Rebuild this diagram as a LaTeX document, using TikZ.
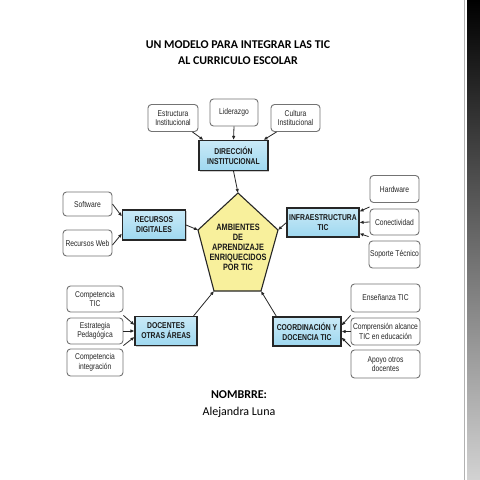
\documentclass[tikz,border=0pt]{standalone}
\usepackage{fontspec}
\setmainfont{Carlito}
\newfontfamily\boxfont[FakeStretch=0.8]{Liberation Sans}
\usetikzlibrary{arrows.meta,shadows}
\definecolor{mainblue}{HTML}{9ED8F0}
\definecolor{penta}{HTML}{F8F09C}
\tikzset{
  small/.style={draw=black!55, line width=0.9pt, rounded corners=3.5pt, fill=white,
    align=center, font=\boxfont\fontsize{8.4}{9.4}\selectfont, inner sep=1pt, text=black!85},
  mainbox/.style={draw=black!85, line width=1.1pt, top color=mainblue!55, bottom color=mainblue,
    align=center, font=\boxfont\bfseries\fontsize{8.5}{10}\selectfont, inner sep=1pt,
    text=black!90,
    drop shadow={shadow xshift=1pt, shadow yshift=-1pt, opacity=0.4}},
  conn/.style={line width=0.8pt, black!85, -{Latex[length=4pt,width=3.5pt]}},
}
\begin{document}
\begin{tikzpicture}[x=1pt,y=-1pt]
\useasboundingbox (0,0) rectangle (480,480);
\fill[white] (0,0) rectangle (480,480);
% right band
\shade[top color=black, bottom color=gray!35] (467,0) rectangle (480,480);
\draw[gray!60, line width=0.8pt] (464,0) -- (464,480);
% title
\node[font=\bfseries\fontsize{11.9}{16.5}\selectfont, align=center] (title) at (238,52.5) {UN MODELO PARA INTEGRAR LAS TIC\\AL CURRICULO ESCOLAR};
% top small boxes
\node[small, minimum width=50pt, minimum height=27pt] (estr) at (173,118) {Estructura\\Institucional};
\node[small, minimum width=48pt, minimum height=27pt] (lid) at (234,112.5) {Liderazgo};
\node[small, minimum width=49pt, minimum height=27pt] (cult) at (295.5,118) {Cultura\\Institucional};
\node[mainbox, minimum width=69pt, minimum height=30pt] (dir) at (233.5,155.5) {DIRECCIÓN\\INSTITUCIONAL};
% pentagon
\coordinate (pt) at (238,193);
\coordinate (pr) at (278,230);
\coordinate (pbr) at (261,291);
\coordinate (pbl) at (214,291);
\coordinate (pl) at (198,230);
\filldraw[fill=penta, draw=black!85, line width=1.1pt] (pt) -- (pr) -- (pbr) -- (pbl) -- (pl) -- cycle;
\node[font=\boxfont\bfseries\fontsize{9.2}{10}\selectfont, align=center, text=black!90] (amb) at (238,247) {AMBIENTES\\DE\\APRENDIZAJE\\ENRIQUECIDOS\\POR TIC};
% left
\node[small, minimum width=49pt, minimum height=24pt] (soft) at (87.5,204) {Software};
\node[small, minimum width=49pt, minimum height=26pt] (web) at (87.5,243) {Recursos Web};
\node[mainbox, minimum width=63pt, minimum height=30pt] (rec) at (154,225) {RECURSOS\\DIGITALES};
% right
\node[small, minimum width=49pt, minimum height=27pt] (hard) at (394.5,189) {Hardware};
\node[small, minimum width=49pt, minimum height=26pt] (conec) at (394.5,222) {Conectividad};
\node[small, minimum width=49pt, minimum height=27pt] (sop) at (394.5,254.5) {Soporte Técnico};
\node[mainbox, minimum width=72pt, minimum height=29pt] (inf) at (323,222.5) {INFRAESTRUCTURA\\TIC};
% bottom left
\node[small, minimum width=56pt, minimum height=26pt] (comp) at (95,299) {Competencia\\TIC};
\node[small, minimum width=56pt, minimum height=26pt] (estra) at (95,331) {Estrategia\\Pedagógica};
\node[small, minimum width=56pt, minimum height=27pt] (compi) at (95,362.5) {Competencia\\integración};
\node[mainbox, minimum width=62pt, minimum height=29pt] (doc) at (166,331) {DOCENTES\\OTRAS ÁREAS};
% bottom right
\node[small, minimum width=69pt, minimum height=28pt] (ens) at (385.5,298) {Enseñanza TIC};
\node[small, minimum width=69pt, minimum height=27pt] (compr) at (385.5,331.5) {Comprensión alcance\\TIC en educación};
\node[small, minimum width=69pt, minimum height=28pt] (apo) at (385.5,364) {Apoyo otros\\docentes};
\node[mainbox, minimum width=68pt, minimum height=29pt] (coor) at (307,331.5) {COORDINACIÓN Y\\DOCENCIA TIC};
% name
\node[font=\bfseries\fontsize{12}{14}\selectfont] (nom) at (239,395) {NOMBRRE:};
\node[font=\fontsize{12}{14}\selectfont] (ale) at (239,412) {Alejandra Luna};
% connectors
\draw[conn] ([xshift=-6pt]estr.south east) -- ([xshift=5pt]dir.north west);
\draw[conn] (lid.south) -- (dir.north);
\draw[conn] ([xshift=6pt]cult.south west) -- ([xshift=-5pt]dir.north east);
\draw[conn] (dir.south) -- (pt);
\draw[conn] (soft.east) -- ([yshift=-7pt]rec.north west);
\draw[conn] ([yshift=-2pt]web.east) -- ([yshift=7pt]rec.south west);
\draw[conn] (rec.east) -- (pl);
\draw[conn] ([yshift=-4pt]hard.south west) -- ([yshift=-4pt]inf.north east);
\draw[conn] (conec.west) -- (inf.east);
\draw[conn] ([yshift=4pt]sop.north west) -- ([yshift=4pt]inf.south east);
\draw[conn] (inf.west) -- (pr);
\draw[conn] ([yshift=-3pt]comp.south east) -- ([yshift=6pt]doc.west);
\draw[conn] (estra.east) -- (doc.west);
\draw[conn] ([yshift=3pt]compi.north east) -- ([yshift=-6pt]doc.west);
\draw[conn] ([xshift=-4pt]doc.north east) -- (pbl);
\draw[conn] ([yshift=-3pt]ens.south west) -- ([yshift=6pt]coor.east);
\draw[conn] (compr.west) -- (coor.east);
\draw[conn] ([yshift=3pt]apo.north west) -- ([yshift=-6pt]coor.east);
\draw[conn] ([xshift=4pt]coor.north west) -- (pbr);
\end{tikzpicture}
\end{document}
